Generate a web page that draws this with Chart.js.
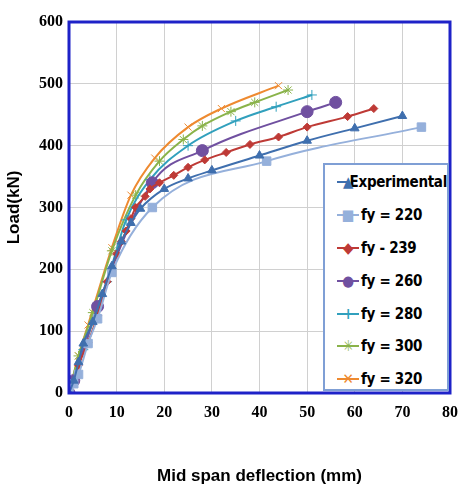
<!DOCTYPE html>
<html lang="en">
<head>
<meta charset="UTF-8">
<script src="https://cdn.jsdelivr.net/npm/chart.js"></script>
<style>
  body { margin: 0; background: white; }
  #wrap { position: relative; width: 474px; height: 487px; }
  #legend {
    position: absolute; left: 323px; top: 163px; width: 126px; height: 228px;
    border: 2px solid #7F9FD5; background: white; box-sizing: border-box;
    font: bold 15px "DejaVu Sans Condensed", "Liberation Sans Narrow", sans-serif;
    letter-spacing: -0.3px;
    padding: 1px 0 0 12px;
  }
  .item { height: 32.8px; display: flex; align-items: center; white-space: nowrap; }
  .glyph { position: relative; width: 22px; height: 2px; margin-right: 2px; }
  .glyph span { position: absolute; left: 11px; top: 1px; transform: translate(-50%, -50%); font-size: 15px; line-height: 15px; }
</style>
</head>
<body>
<div id="wrap">
  <canvas id="chart" width="474" height="487"></canvas>
  <div id="legend"></div>
</div>
<script>
const names = ['Experimental', 'fy = 220', 'fy - 239', 'fy = 260', 'fy = 280', 'fy = 300', 'fy = 320'];
const colors = ['#3F6FAE', '#95B0DB', '#BE3A36', '#7050A0', '#31A0BD', '#8AB34A', '#EE8A30'];
const markers = ['triangle', 'rect', 'rectRot', 'circle', 'cross', 'star', 'crossRot'];
const glyphs = ['▲', '■', '◆', '●', '+', '✳', '✕'];

const expX = [0, 1, 2, 3, 5, 7, 9, 11, 13, 15, 20, 25, 30, 40, 50, 60, 70];
const expY = [0, 20, 50, 80, 115, 160, 205, 245, 275, 298, 330, 347, 360, 384, 408, 428, 448];
const f220X = [0, 1, 2, 4, 6, 9, 17.5, 41.5, 74];
const f220Y = [0, 15, 30, 80, 120, 195, 300, 375, 430];
const f239X = [0, 2, 4, 6, 8, 10, 11, 12, 13, 14, 16, 17, 19, 22, 25, 28.5, 33, 38, 44, 50, 58.5, 64];
const f239Y = [0, 45, 82, 125, 180, 225, 245, 262, 282, 300, 318, 330, 340, 352, 365, 377, 389, 402, 414, 430, 447, 460];
const f260X = [0, 1, 6, 17.5, 28, 50, 56];
const f260Y = [0, 20, 140, 340, 392, 455, 470];
const f280X = [0, 3, 8, 12, 17, 25, 35, 43.5, 51];
const f280Y = [0, 70, 180, 280, 345, 400, 440, 463, 482];
const f300X = [0, 2, 5, 9, 14, 19, 24, 28, 34, 39, 46];
const f300Y = [0, 60, 130, 230, 320, 375, 410, 432, 455, 470, 490];
const f320X = [0, 2, 4, 9, 13, 18, 25, 32, 44];
const f320Y = [0, 60, 110, 235, 320, 380, 430, 460, 497];

const xs = [expX, f220X, f239X, f260X, f280X, f300X, f320X];
const ys = [expY, f220Y, f239Y, f260Y, f280Y, f300Y, f320Y];
const sizes = [5, 6, 4, 6, 5, 5, 5];

const datasets = names.map((n, i) => ({
  label: n,
  data: xs[i].map((x, j) => ({ x: x, y: ys[i][j] })),
  showLine: true,
  borderColor: colors[i],
  backgroundColor: colors[i],
  borderWidth: 2,
  pointStyle: markers[i],
  pointRadius: sizes[i],
  pointBorderWidth: 1,
  cubicInterpolationMode: 'monotone'
}));

const frame = {
  id: 'frame',
  afterDraw(chart) {
    const a = chart.chartArea, c = chart.ctx;
    c.save();
    c.strokeStyle = '#1E22C8';
    c.lineWidth = 3;
    c.strokeRect(a.left, a.top, a.right - a.left, a.bottom - a.top);
    c.restore();
  }
};

new Chart(document.getElementById('chart'), {
  type: 'scatter',
  data: { datasets: datasets },
  plugins: [frame],
  options: {
    responsive: false,
    animation: false,
    layout: { padding: { top: 22, right: 24, left: 0, bottom: 0 } },
    plugins: { legend: { display: false }, tooltip: { enabled: false } },
    scales: {
      x: {
        min: 0, max: 80,
        ticks: { stepSize: 10, color: '#000', font: { family: 'Liberation Serif', size: 16, weight: 'bold' }, padding: 10 },
        grid: { color: '#D0D0D0', drawTicks: false },
        border: { display: false },
        title: { display: true, text: 'Mid span deflection (mm)', color: '#000', font: { family: 'Liberation Sans', size: 17, weight: 'bold' }, padding: { top: 20, bottom: 0 } },
        afterFit(s) { s.height = 94; }
      },
      y: {
        min: 0, max: 600,
        ticks: { stepSize: 100, color: '#000', font: { family: 'Liberation Serif', size: 16, weight: 'bold' }, padding: 6 },
        grid: { color: '#D0D0D0', drawTicks: false },
        border: { display: false },
        title: { display: true, text: 'Load(kN)', color: '#000', font: { family: 'Liberation Sans', size: 17, weight: 'bold' } },
        afterFit(s) { s.width = 69; }
      }
    }
  }
});

const legend = document.getElementById('legend');
names.forEach((n, i) => {
  const row = document.createElement('div');
  row.className = 'item';
  row.innerHTML = '<div class="glyph" style="background:' + colors[i] + '"><span style="color:' + colors[i] + '">' + glyphs[i] + '</span></div>' + n;
  legend.appendChild(row);
});
</script>
</body>
</html>
